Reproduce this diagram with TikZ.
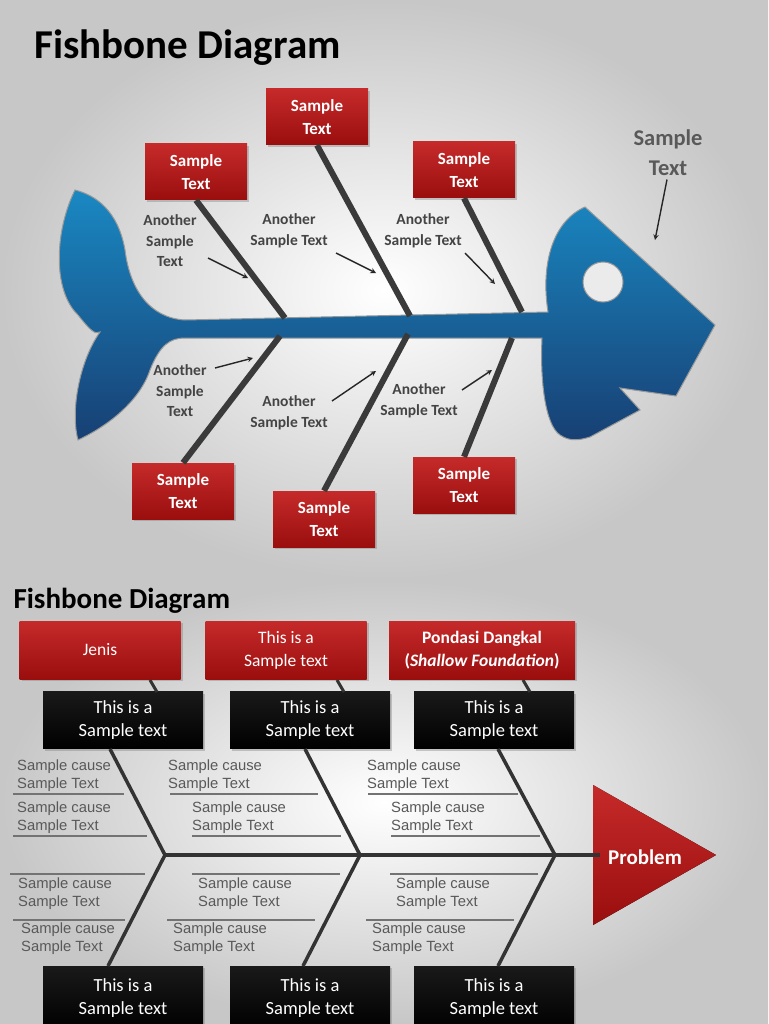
\documentclass[tikz,border=0pt]{standalone}
\usepackage{fontspec}
\setmainfont{Carlito}
\newfontfamily\arialf{Liberation Sans}
\usetikzlibrary{shadows}
\definecolor{fishtop}{HTML}{1A88C2}
\definecolor{fishbot}{HTML}{173F73}
\definecolor{redtop}{HTML}{C62A2A}
\definecolor{redbot}{HTML}{9A0E0E}
\definecolor{bone}{HTML}{3A3A3A}
\definecolor{lbl}{HTML}{444444}
\tikzset{
 redbox/.style={draw=none,top color=redtop,bottom color=redbot,text=white,align=center,
   minimum width=102pt,minimum height=56pt,font=\fontsize{17}{23}\selectfont\bfseries,
   drop shadow={shadow xshift=2pt,shadow yshift=-2pt,opacity=.4}},
 redbox2/.style={redbox,minimum width=161pt,minimum height=58pt,font=\fontsize{17.5}{23}\selectfont},
 blkbox/.style={draw=none,top color=black!90,bottom color=black,text=white,align=center,
   minimum width=160pt,minimum height=57pt,font=\fontsize{18.5}{23}\selectfont,
   drop shadow={shadow xshift=2pt,shadow yshift=-2pt,opacity=.4}},
 bonel/.style={draw=bone,line width=6pt},
 bone2/.style={draw=black!80,line width=3.5pt},
 lab/.style={text=lbl,align=center,font=\fontsize{15.5}{20.5}\selectfont\bfseries},
 arr/.style={-stealth,line width=1.4pt,black!85},
 cause/.style={anchor=north west,inner sep=0pt,align=left,text=black!65,font=\arialf\fontsize{14.8}{18}\selectfont},
 uline/.style={draw=black!55,line width=1.5pt}
}
\begin{document}
\begin{tikzpicture}[x=1pt,y=-1pt]
\useasboundingbox (0,0) rectangle (768,1024);
\shade[inner color=white,outer color=black!22] (0,0) rectangle (768,580);
\shade[inner color=white,outer color=black!22] (0,580) rectangle (768,1024);
% ---------- top
\node[anchor=west,font=\fontsize{41}{46}\selectfont\bfseries] (t1) at (31,48) {Fishbone Diagram};
% fish
\shade[top color=fishtop,bottom color=fishbot,draw=black!40,line width=1pt]
 (548,312) -- (185,320) .. controls (150,318) and (130,290) .. (125,250)
 .. controls (118,210) and (95,195) .. (75,190)
 .. controls (55,230) and (52,290) .. (78,315)
 .. controls (90,330) and (95,335) .. (100,332)
 .. controls (80,360) and (70,410) .. (78,440)
 .. controls (110,425) and (140,400) .. (150,370)
 .. controls (160,345) and (170,338) .. (185,338)
 -- (542,338) .. controls (540,380) and (545,425) .. (560,435) .. controls (570,442) and (580,440) .. (590,437)
 -- (640,410) -- (620,388) -- (676,396) -- (715,325) -- (585,207)
 .. controls (555,220) and (540,260) .. (548,312) -- cycle;
\draw[fill=white!92!black,draw=black!40,line width=1pt] (603,282) circle (20);
% red boxes
\node[redbox] (b1) at (196,172) {Sample\\Text};
\node[redbox] (b2) at (317,117) {Sample\\Text};
\node[redbox] (b3) at (464,170) {Sample\\Text};
\node[redbox] (b4) at (183,491) {Sample\\Text};
\node[redbox] (b5) at (324,519) {Sample\\Text};
\node[redbox] (b6) at (464,485) {Sample\\Text};
\coordinate (s1) at (285,318); \coordinate (s2) at (410,316); \coordinate (s3) at (522,312);
\coordinate (s4) at (280,336); \coordinate (s5) at (408,334); \coordinate (s6) at (512,338);
\draw[bonel] (b1.south) -- (s1);
\draw[bonel] (b2.south) -- (s2);
\draw[bonel] (b3.south) -- (s3);
\draw[bonel] (b4.north) -- (s4);
\draw[bonel] (b5.north) -- (s5);
\draw[bonel] (b6.north) -- (s6);
% labels
\node[lab] (l1) at (170,241) {Another\\Sample\\Text};
\node[lab] (l2) at (289,231) {Another\\Sample Text};
\node[lab] (l3) at (423,231) {Another\\Sample Text};
\node[lab] (l4) at (180,391) {Another\\Sample\\Text};
\node[lab] (l5) at (289,413) {Another\\Sample Text};
\node[lab] (l6) at (419,401) {Another\\Sample Text};
\coordinate (a1) at (248,278); \coordinate (a2) at (376,273); \coordinate (a3) at (495,284);
\coordinate (a4) at (253,358); \coordinate (a5) at (376,371); \coordinate (a6) at (492,370);
\draw[arr] (208,258) -- (a1);
\draw[arr] (336,253) -- (a2);
\draw[arr] (465,253) -- (a3);
\draw[arr] (215,368) -- (a4);
\draw[arr] (332,401) -- (a5);
\draw[arr] (462,390) -- (a6);
\node[text=black!65,align=center,font=\fontsize{22.5}{30}\selectfont\bfseries] (st) at (668,153) {Sample\\Text};
\coordinate (hd) at (655,240);
\draw[arr] (st.south) ++(-1,0) -- (hd);
% ---------- bottom
\node[anchor=west,font=\fontsize{29}{34}\selectfont\bfseries] (t2) at (10,601) {Fishbone Diagram};
\coordinate (j1) at (165,855); \coordinate (j2) at (360,855); \coordinate (j3) at (555,855);
\fill[top color=redtop,bottom color=redbot] (593,785) -- (716,855) -- (593,925) -- cycle;
\node[text=white,font=\fontsize{21}{25}\selectfont\bfseries] (pr) at (645,857) {Problem};
\draw[bone2] (j1) -- (600,855);
\node[redbox2] (r1) at (100,650) {Jenis};
\node[redbox2] (r2) at (286,650) {This is a\\Sample text};
\node[redbox2,minimum width=186pt] (r3) at (482,650) {\textbf{Pondasi Dangkal}\\\textbf{(\textit{Shallow Foundation})}};
\node[blkbox] (k1) at (123,720) {This is a\\Sample text};
\node[blkbox] (k2) at (310,720) {This is a\\Sample text};
\node[blkbox] (k3) at (494,720) {This is a\\Sample text};
\node[blkbox,minimum height=64pt] (k4) at (123,998) {This is a\\Sample text};
\node[blkbox,minimum height=64pt] (k5) at (310,998) {This is a\\Sample text};
\node[blkbox,minimum height=64pt] (k6) at (494,998) {This is a\\Sample text};
\draw[bone2,line width=3pt] (150,680) -- (157,692);
\draw[bone2,line width=3pt] (337,680) -- (344,692);
\draw[bone2,line width=3pt] (523,680) -- (530,692);
\draw[bone2] (110,749) -- (j1) -- (108,966);
\draw[bone2] (305,749) -- (j2) -- (303,966);
\draw[bone2] (498,749) -- (j3) -- (498,966);
% causes
\foreach \x/\y in {17/760,17/802,18/878,21/923,168/760,192/802,198/878,173/923,367/760,391/802,396/878,372/923}
  \node[cause] at (\x,\y) {Sample cause\\Sample Text};
\foreach \a/\b/\y in {13/124/794,13/147/836,10/145/874,13/125/920,170/318/794,192/341/836,192/340/874,167/315/920,368/518/794,391/540/836,390/538/874,366/514/920}
  \draw[uline] (\a,\y) -- (\b,\y);
\end{tikzpicture}
\end{document}
